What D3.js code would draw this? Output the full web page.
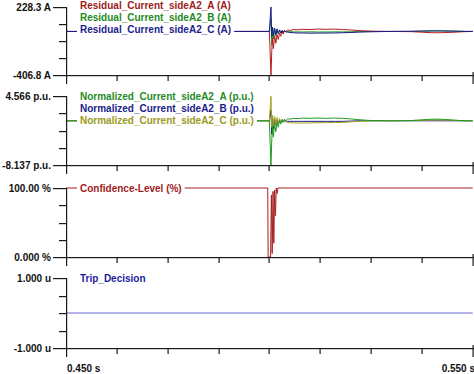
<!DOCTYPE html>
<html>
<head>
<meta charset="utf-8">
<script src="https://cdn.jsdelivr.net/npm/d3@7"></script>
<style>
  body { margin: 0; background: #fff; }
  svg { display: block; }
  text { font-family: "Liberation Sans", Arial, sans-serif; font-weight: bold; font-size: 10px; }
</style>
</head>
<body>
<div id="chart"></div>
<script>
// time base shared by the current traces (s)
var timeCur = [0.450, 0.5000, 0.5004, 0.5006, 0.5008, 0.5010, 0.5013, 0.5016, 0.5019, 0.5022,
  0.5025, 0.5028, 0.5031, 0.5034, 0.5037, 0.5040, 0.5045, 0.5050, 0.5060, 0.5070,
  0.5080, 0.5100, 0.5120, 0.5140, 0.5160, 0.5180, 0.5200, 0.5220, 0.5250, 0.5300,
  0.5350, 0.5380, 0.5400, 0.5420, 0.5450, 0.5480, 0.5500];

// residual currents (A)
var residA = [0, 0, -406, -180, -60, -160, -40, -110, -30, -75, -15, -45, 5, -25, 10, -5, 15, 8, 18, 15,
  20, 18, 22, 20, 22, 18, 14, 8, 3, 0, -2, -8, -12, -12, -8, -2, 0];
var residB = [0, 0, 120, -130, 30, -70, 20, -40, 10, -20, 5, -10, 3, -5, 2, 0, -3, -3, -4, -4,
  -5, -4, -5, -5, -4, -4, -3, -2, -1, 0, 0, 2, 4, 5, 4, 1, 0];
var residC = [0, 0, 228, -50, 40, -40, 30, -30, 25, -20, 15, -15, 10, -10, 8, -5, -5, -10, -12, -15,
  -14, -16, -15, -15, -14, -12, -10, -6, -3, 0, 2, 5, 6, 5, 3, 0, 0];

// normalized currents (p.u.)
var normA = [0, 0, -8.137, -3.5, -1, -3, -0.5, -2, -0.3, -1.2, 0, -0.6, 0.2, -0.3, 0.3, 0, 0.4, 0.3, 0.45, 0.4,
  0.5, 0.45, 0.5, 0.45, 0.5, 0.45, 0.35, 0.2, 0.05, 0, 0.05, 0.2, 0.3, 0.3, 0.15, 0, 0];
var normB = [0, 0, 2, -2.5, 0.5, -1.5, 0.3, -0.8, 0.2, -0.4, 0.1, -0.2, 0, -0.1, 0, 0, -0.1, -0.1, -0.1, -0.1,
  -0.1, -0.1, -0.1, -0.1, -0.1, -0.1, -0.05, 0, 0, 0, 0, 0, 0, 0, 0, 0, 0];
var normC = [0, 0, 4.5, -1.2, 1, -1, 0.8, -0.8, 0.6, -0.5, 0.4, -0.4, 0.3, -0.2, -0.1, -0.2, -0.3, -0.35, -0.4, -0.4,
  -0.4, -0.4, -0.35, -0.35, -0.3, -0.3, -0.2, -0.1, 0, 0, 0.05, 0.1, 0.15, 0.15, 0.1, 0, 0];

// confidence level (%)
var timeConf = [0.450, 0.4996, 0.4997, 0.5003, 0.5005, 0.5007, 0.5009, 0.5011, 0.5013, 0.5015, 0.5017, 0.5019, 0.5021, 0.5030, 0.550];
var confidence = [100, 100, 0, 0, 90, 5, 95, 20, 97, 60, 100, 92, 100, 100, 100];

// trip decision (u)
var timeTrip = [0.450, 0.550];
var trip = [0, 0];

// axis extents and labels
var timeTicks = [0.450, 0.4625, 0.475, 0.4875, 0.500, 0.5125, 0.525, 0.5375, 0.550];
var timeLabels = ["0.450 s", "0.550 s"];
var yDomains = [[-406.8, 228.3], [-8.137, 4.566], [0, 100], [-1, 1]];
var yLabels = [["-406.8 A", "228.3 A"], ["-8.137 p.u.", "4.566 p.u."], ["0.000 %", "100.00 %"], ["-1.000 u", "1.000 u"]];

var width = 474, height = 374;
var left = 66, right = 472.7;
var panelTop = [7, 96, 188, 278];
var panelBottom = [75, 165, 257, 348];
var ink = "#1a1a1a";

var svg = d3.select("#chart").append("svg")
  .attr("width", width)
  .attr("height", height);

var x = d3.scaleLinear().domain([0.45, 0.55]).range([left, right]);

function zipSeries(t, v) {
  return t.map(function (d, i) { return [d, v[i]]; });
}

var panels = [
  { series: [
      { values: zipSeries(timeCur, residB), color: "#1f9a1f" },
      { values: zipSeries(timeCur, residA), color: "#b81c1c" },
      { values: zipSeries(timeCur, residC), color: "#1a1a8c" }],
    legend: [
      { text: "Residual_Current_sideA2_A (A)", color: "#9c1c1c", y: 9, bg: false },
      { text: "Residual_Current_sideA2_B (A)", color: "#1f8c1f", y: 20.5, bg: false },
      { text: "Residual_Current_sideA2_C (A)", color: "#1c1c8c", y: 32.7, bg: true }] },
  { series: [
      { values: zipSeries(timeCur, normB), color: "#1a1a8c" },
      { values: zipSeries(timeCur, normC), color: "#a3a31c" },
      { values: zipSeries(timeCur, normA), color: "#1f9a1f" }],
    legend: [
      { text: "Normalized_Current_sideA2_A (p.u.)", color: "#1f8c1f", y: 100, bg: false },
      { text: "Normalized_Current_sideA2_B (p.u.)", color: "#1c1c8c", y: 112, bg: false },
      { text: "Normalized_Current_sideA2_C (p.u.)", color: "#9a9a1c", y: 124.3, bg: true }] },
  { series: [
      { values: zipSeries(timeConf, confidence), color: "#a82020" }],
    legend: [
      { text: "Confidence-Level (%)", color: "#a01c1c", y: 192.2, bg: true }] },
  { series: [
      { values: zipSeries(timeTrip, trip), color: "#6a6ad6" }],
    legend: [
      { text: "Trip_Decision", color: "#1c1c9c", y: 282, bg: false }] }
];

panels.forEach(function (p, i) {
  var dom = yDomains[i];
  var y = d3.scaleLinear().domain(dom).range([panelBottom[i], panelTop[i]]);
  var g = svg.append("g");

  // traces
  var line = d3.line()
    .x(function (d) { return x(d[0]); })
    .y(function (d) { return y(d[1]); });
  p.series.forEach(function (s) {
    g.append("path")
      .datum(s.values)
      .attr("fill", "none")
      .attr("stroke", s.color)
      .attr("stroke-width", 1)
      .attr("d", line);
  });

  // legend labels, some sitting on a white box over the trace
  p.legend.forEach(function (l) {
    var t = g.append("text")
      .attr("x", 80)
      .attr("y", l.y)
      .attr("fill", l.color)
      .text(l.text);
    if (l.bg) {
      var bb = t.node().getBBox();
      g.insert("rect", function () { return t.node(); })
        .attr("x", bb.x - 3)
        .attr("y", bb.y)
        .attr("width", bb.width + 6)
        .attr("height", bb.height)
        .attr("fill", "#fff");
    }
  });

  // y axis: five ticks, the two end ones labelled and longer
  var step = (dom[1] - dom[0]) / 4;
  var yTicks = [0, 1, 2, 3, 4].map(function (k) { return dom[0] + k * step; });
  g.selectAll("rect.ytick")
    .data(yTicks)
    .enter().append("rect")
    .attr("class", "ytick")
    .attr("x", function (d, k) { return (k === 0 || k === 4) ? left - 13 : left - 7; })
    .attr("y", function (d) { return Math.round(y(d)); })
    .attr("width", function (d, k) { return (k === 0 || k === 4) ? 13 : 7; })
    .attr("height", 1.2)
    .attr("fill", ink);
  g.selectAll("text.ylab")
    .data([dom[0], dom[1]])
    .enter().append("text")
    .attr("class", "ylab")
    .attr("x", left - 15)
    .attr("y", function (d) { return Math.round(y(d)) + 4; })
    .attr("text-anchor", "end")
    .attr("fill", "#111")
    .text(function (d, k) { return yLabels[i][k]; });

  g.append("rect")
    .attr("x", left).attr("y", panelTop[i])
    .attr("width", 1.2).attr("height", panelBottom[i] + 9 - panelTop[i])
    .attr("fill", ink);

  // x axis along the bottom of each panel
  g.append("rect")
    .attr("x", left).attr("y", panelBottom[i])
    .attr("width", width - left).attr("height", 1.2)
    .attr("fill", ink);
  g.selectAll("rect.xtick")
    .data(timeTicks.slice(1))
    .enter().append("rect")
    .attr("class", "xtick")
    .attr("x", function (d) { return Math.round(x(d)) - 0.5; })
    .attr("y", function (d, k) { return k === 7 ? panelBottom[i] - 3 : panelBottom[i]; })
    .attr("width", 1.2)
    .attr("height", function (d, k) { return k === 7 ? 12 : 6; })
    .attr("fill", ink);
});

// time labels
svg.append("text")
  .attr("x", x(timeTicks[0]) + 1)
  .attr("y", 372)
  .attr("fill", "#111")
  .text(timeLabels[0]);
svg.append("text")
  .attr("x", width + 1)
  .attr("y", 372)
  .attr("text-anchor", "end")
  .attr("fill", "#111")
  .text(timeLabels[1]);
</script>
</body>
</html>
